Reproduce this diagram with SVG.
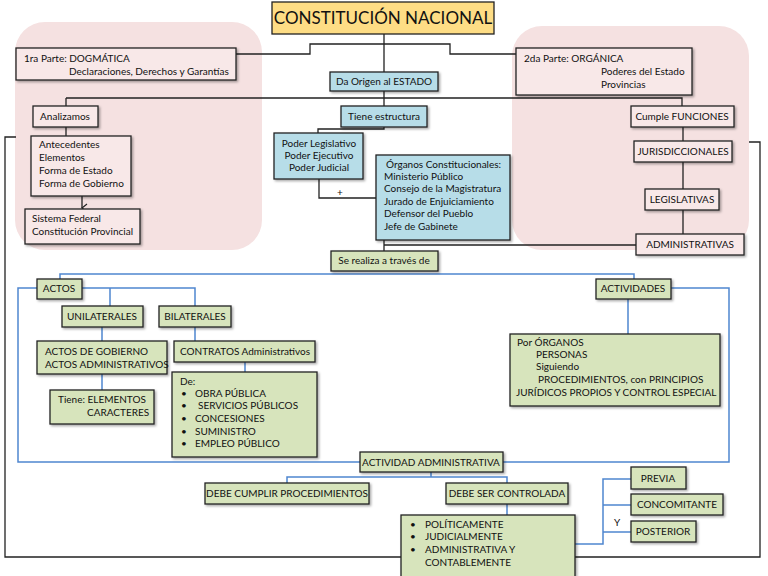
<svg xmlns="http://www.w3.org/2000/svg" width="768" height="576" viewBox="0 0 768 576">
<style>
text{font-family:Lato,"Liberation Sans",sans-serif;font-size:10px;fill:#111}
.c{text-anchor:middle}
.b{stroke:#222;stroke-width:1.3}
.w{fill:#f8e8e8}
.bl{fill:#b7dde8}
.g{fill:#d7e4bc}
.k{fill:none;stroke:#222;stroke-width:1.3}
.u{fill:none;stroke:#4f86d0;stroke-width:1.5}
</style>
<defs>
<filter id="s" x="-10%" y="-10%" width="130%" height="140%"><feDropShadow dx="1.5" dy="1.5" stdDeviation="0.8" flood-color="#000" flood-opacity="0.35"/></filter>
<marker id="a" markerWidth="10" markerHeight="10" refX="5" refY="7" orient="auto" markerUnits="userSpaceOnUse"><path d="M1 2 L5 7 L9 2" fill="none" stroke="#222" stroke-width="1.2"/></marker>
</defs>
<rect x="15" y="22" width="247" height="228" rx="30" fill="#f5e1e1"/>
<rect x="512" y="26" width="237" height="224" rx="30" fill="#f5e1e1"/>
<g id="connectors">
<path class="k" d="M16 137 H5 V557 H760 V142 H749"/>
<path class="k" d="M384 34 V72 M384 44 H310 V54 H236 M384 44 H450 V54 H516 M384 91 V106 M66 98 H682 V106 M66 98 V106 M66 127 V136 M683 127 V234 M384 127 V129 H318 V133 M319 179 V198 H376 M384 240 V251 M384 245 H636"/>
<path class="k" d="M82 196 V208" marker-end="url(#a)"/>
<path class="u" d="M60 279 V274 H634 V279 M37 288 H18 V462 H360 M82 288 H195 V306 M110 288 V306 M102 327 V341 M102 374 V390 M195 327 V341 M245 362 V372 M628 299 V334 M671 288 H729 V462 H503 M431 472 V477 M287 483 V477 H507 V483 M507 504 V515 M575 544 H603 V479 H631 M603 505 H631 M603 532 H631"/>
<text x="340" y="196" class="c">+</text>
<text x="617" y="526" class="c">Y</text>
</g>
<g id="title"><rect x="272" y="2" width="222" height="32" fill="#fedd85" class="b"/><text x="383" y="24" class="c" style="font-size:17px">CONSTITUCIÓN NACIONAL</text></g>
<g id="n1"><rect x="16" y="48" width="220" height="32" class="b w" filter="url(#s)"/><text x="24" y="62">1ra Parte: DOGMÁTICA</text><text x="69" y="75">Declaraciones, Derechos y Garantías</text></g>
<g id="n2"><rect x="516" y="48" width="176" height="47" class="b w" filter="url(#s)"/><text x="524" y="62">2da Parte: ORGÁNICA</text><text x="601" y="75">Poderes del Estado</text><text x="601" y="88">Provincias</text></g>
<g id="n3"><rect x="330" y="72" width="108" height="19" class="b bl" filter="url(#s)"/><text x="384" y="85" class="c">Da Origen al ESTADO</text></g>
<g id="n4"><rect x="341" y="106" width="86" height="21" class="b bl" filter="url(#s)"/><text x="384" y="120" class="c">Tiene estructura</text></g>
<g id="n5"><rect x="274" y="133" width="89" height="46" class="b bl" filter="url(#s)"/><text x="319" y="147" class="c">Poder Legislativo</text><text x="319" y="159" class="c">Poder Ejecutivo</text><text x="319" y="171" class="c">Poder Judicial</text></g>
<g id="n6"><rect x="376" y="155" width="134" height="85" class="b bl" filter="url(#s)"/><text x="386" y="168">Órganos Constitucionales:</text><text x="384" y="180">Ministerio Público</text><text x="384" y="192">Consejo de la Magistratura</text><text x="384" y="205">Jurado de Enjuiciamiento</text><text x="384" y="217">Defensor del Pueblo</text><text x="384" y="230">Jefe de Gabinete</text></g>
<g id="n7"><rect x="33" y="106" width="65" height="21" class="b w" filter="url(#s)"/><text x="65" y="120" class="c">Analizamos</text></g>
<g id="n8"><rect x="31" y="136" width="100" height="60" class="b w" filter="url(#s)"/><text x="39" y="148">Antecedentes</text><text x="39" y="161">Elementos</text><text x="39" y="174">Forma de Estado</text><text x="39" y="187">Forma de Gobierno</text></g>
<g id="n9"><rect x="25" y="209" width="115" height="35" class="b w" filter="url(#s)"/><text x="32" y="222">Sistema Federal</text><text x="32" y="235">Constitución Provincial</text></g>
<g id="n10"><rect x="631" y="106" width="103" height="21" class="b w" filter="url(#s)"/><text x="682" y="120" class="c">Cumple FUNCIONES</text></g>
<g id="n11"><rect x="634" y="141" width="98" height="21" class="b w" filter="url(#s)"/><text x="683" y="155" class="c">JURISDICCIONALES</text></g>
<g id="n12"><rect x="645" y="189" width="74" height="21" class="b w" filter="url(#s)"/><text x="682" y="203" class="c">LEGISLATIVAS</text></g>
<g id="n13"><rect x="636" y="234" width="108" height="21" class="b w" filter="url(#s)"/><text x="690" y="248" class="c">ADMINISTRATIVAS</text></g>
<g id="n14"><rect x="331" y="251" width="107" height="20" class="b g" filter="url(#s)"/><text x="384" y="264" class="c">Se realiza a través de</text></g>
<g id="n15"><rect x="37" y="279" width="45" height="20" class="b g" filter="url(#s)"/><text x="59" y="292" class="c">ACTOS</text></g>
<g id="n16"><rect x="596" y="279" width="75" height="20" class="b g" filter="url(#s)"/><text x="633" y="292" class="c">ACTIVIDADES</text></g>
<g id="n17"><rect x="62" y="306" width="81" height="21" class="b g" filter="url(#s)"/><text x="102" y="320" class="c">UNILATERALES</text></g>
<g id="n18"><rect x="159" y="306" width="72" height="21" class="b g" filter="url(#s)"/><text x="195" y="320" class="c">BILATERALES</text></g>
<g id="n19"><rect x="37" y="341" width="130" height="33" class="b g" filter="url(#s)"/><text x="45" y="355">ACTOS DE GOBIERNO</text><text x="45" y="368">ACTOS ADMINISTRATIVOS</text></g>
<g id="n20"><rect x="50" y="390" width="104" height="34" class="b g" filter="url(#s)"/><text x="58" y="403">Tiene: ELEMENTOS</text><text x="87" y="416">CARACTERES</text></g>
<g id="n21"><rect x="174" y="341" width="141" height="21" class="b g" filter="url(#s)"/><text x="245" y="355" class="c">CONTRATOS Administrativos</text></g>
<g id="n22"><rect x="172" y="372" width="145" height="85" class="b g" filter="url(#s)"/><text x="180" y="385">De:</text><text x="181" y="397">•</text><text x="195" y="397">OBRA PÚBLICA</text><text x="181" y="409">•</text><text x="198" y="409">SERVICIOS PÚBLICOS</text><text x="181" y="422">•</text><text x="195" y="422">CONCESIONES</text><text x="181" y="435">•</text><text x="195" y="435">SUMINISTRO</text><text x="181" y="447">•</text><text x="195" y="447">EMPLEO PÚBLICO</text></g>
<g id="n23"><rect x="510" y="334" width="210" height="72" class="b g" filter="url(#s)"/><text x="517" y="346">Por ÓRGANOS</text><text x="536" y="358">PERSONAS</text><text x="536" y="370">Siguiendo</text><text x="538" y="383">PROCEDIMIENTOS, con PRINCIPIOS</text><text x="516" y="396">JURÍDICOS PROPIOS Y CONTROL ESPECIAL</text></g>
<g id="n24"><rect x="360" y="452" width="143" height="20" class="b g" filter="url(#s)"/><text x="431" y="466" class="c">ACTIVIDAD ADMINISTRATIVA</text></g>
<g id="n25"><rect x="205" y="483" width="164" height="21" class="b g" filter="url(#s)"/><text x="287" y="497" class="c">DEBE CUMPLIR PROCEDIMIENTOS</text></g>
<g id="n26"><rect x="446" y="483" width="122" height="21" class="b g" filter="url(#s)"/><text x="507" y="497" class="c">DEBE SER CONTROLADA</text></g>
<g id="n27"><rect x="401" y="515" width="174" height="62" class="b g" filter="url(#s)"/><text x="410" y="528">•</text><text x="425" y="528">POLÍTICAMENTE</text><text x="410" y="540">•</text><text x="425" y="540">JUDICIALMENTE</text><text x="410" y="553">•</text><text x="425" y="553">ADMINISTRATIVA Y</text><text x="425" y="566">CONTABLEMENTE</text></g>
<g id="n28"><rect x="631" y="467" width="55" height="22" class="b g" filter="url(#s)"/><text x="658" y="482" class="c">PREVIA</text></g>
<g id="n29"><rect x="631" y="494" width="92" height="21" class="b g" filter="url(#s)"/><text x="677" y="508" class="c">CONCOMITANTE</text></g>
<g id="n30"><rect x="631" y="521" width="65" height="21" class="b g" filter="url(#s)"/><text x="663" y="535" class="c">POSTERIOR</text></g>
</svg>
